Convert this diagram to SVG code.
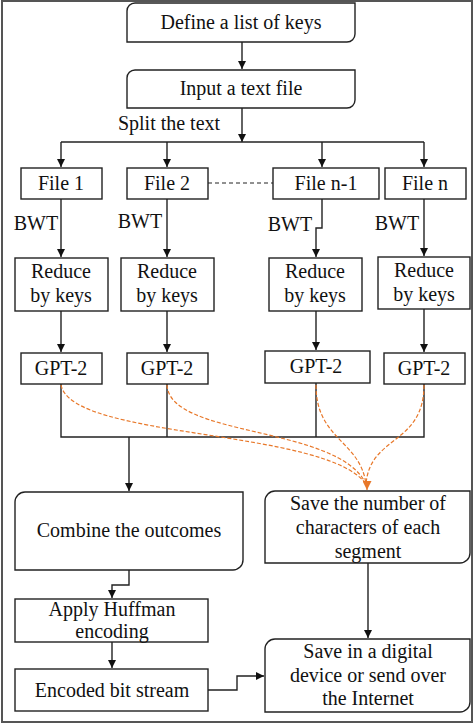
<svg xmlns="http://www.w3.org/2000/svg" width="474" height="724" viewBox="0 0 474 724">
<defs>
<style>
.n{fill:#fff;stroke:#222;stroke-width:1.4}
.t{font-family:"Liberation Serif","Times New Roman",serif;font-size:20px;fill:#111;text-anchor:middle}
.l{fill:none;stroke:#222;stroke-width:1.4}
.o{fill:none;stroke:#e8782a;stroke-width:1.2;stroke-dasharray:4 2}
</style>
<marker id="a" viewBox="0 0 10 10" refX="10" refY="5" markerWidth="8" markerHeight="8" markerUnits="userSpaceOnUse" orient="auto"><path d="M0,0 L10,5 L0,10 Z" fill="#111"/></marker>
<marker id="ao" viewBox="0 0 10 10" refX="10" refY="5" markerWidth="9" markerHeight="9" markerUnits="userSpaceOnUse" orient="auto"><path d="M0,0 L10,5 L0,10 Z" fill="#e8782a"/></marker>
</defs>
<rect x="2" y="1" width="470" height="721" fill="#fff" stroke="#555" stroke-width="2"/>

<g id="connectors">
<line class="l" x1="242" y1="42" x2="242" y2="69" marker-end="url(#a)"/>
<line class="l" x1="242" y1="108" x2="242" y2="142" marker-end="url(#a)"/>
<polyline class="l" points="61,142 424,142"/>
<line class="l" x1="61" y1="142" x2="61" y2="167" marker-end="url(#a)"/>
<line class="l" x1="167" y1="142" x2="167" y2="167" marker-end="url(#a)"/>
<line class="l" x1="322" y1="142" x2="322" y2="167" marker-end="url(#a)"/>
<line class="l" x1="424" y1="142" x2="424" y2="167" marker-end="url(#a)"/>
<line x1="208" y1="183" x2="273" y2="183" stroke="#222" stroke-width="1" stroke-dasharray="4 3"/>
<line class="l" x1="61" y1="199" x2="61" y2="257" marker-end="url(#a)"/>
<line class="l" x1="167" y1="199" x2="167" y2="257" marker-end="url(#a)"/>
<polyline class="l" points="322,199 322,228 316,228 316,257" marker-end="url(#a)"/>
<line class="l" x1="424" y1="199" x2="424" y2="256" marker-end="url(#a)"/>
<line class="l" x1="61" y1="311" x2="61" y2="352" marker-end="url(#a)"/>
<line class="l" x1="167" y1="311" x2="167" y2="352" marker-end="url(#a)"/>
<line class="l" x1="316" y1="311" x2="316" y2="350" marker-end="url(#a)"/>
<line class="l" x1="424" y1="309" x2="424" y2="352" marker-end="url(#a)"/>
<polyline class="l" points="61,384 61,437 424,437 424,384"/>
<line class="l" x1="167" y1="384" x2="167" y2="437"/>
<line class="l" x1="316" y1="383" x2="316" y2="437"/>
<line class="l" x1="129" y1="437" x2="129" y2="491" marker-end="url(#a)"/>
<path class="o" d="M61,385 C72,440 325,428 366,484"/>
<path class="o" d="M167,385 C170,438 338,425 366,484"/>
<path class="o" d="M316,385 C316,440 360,440 366,484"/>
<path class="o" d="M424,385 C424,445 370,435 366,484"/>
<line x1="367" y1="482" x2="367" y2="490" stroke="#e8782a" stroke-width="1.2" marker-end="url(#ao)"/>
<polyline class="l" points="129,570 129,585 112,585 112,598" marker-end="url(#a)"/>
<line class="l" x1="112" y1="642" x2="112" y2="668" marker-end="url(#a)"/>
<line class="l" x1="368" y1="563" x2="368" y2="638" marker-end="url(#a)"/>
<polyline class="l" points="208,690 237,690 237,676 264,676" marker-end="url(#a)"/>
</g>

<g id="define"><path class="n" d="M127,11 A8,8 0 0 1 135,3 L355,3 L355,34 A8,8 0 0 1 347,42 L127,42 Z"/><text class="t" x="241" y="29">Define a list of keys</text></g>
<g id="input"><path class="n" d="M127,78 A8,8 0 0 1 135,70 L355,70 L355,100 A8,8 0 0 1 347,108 L127,108 Z"/><text class="t" x="241" y="95">Input a text file</text></g>
<g id="split"><text class="t" x="169" y="130">Split the text</text></g>

<g id="file1"><rect class="n" x="21" y="168" width="81" height="31"/><text class="t" x="61" y="190">File 1</text></g>
<g id="file2"><rect class="n" x="127" y="168" width="81" height="31"/><text class="t" x="167" y="190">File 2</text></g>
<g id="filen1"><rect class="n" x="273" y="168" width="106" height="31"/><text class="t" x="326" y="190">File n-1</text></g>
<g id="filen"><rect class="n" x="385" y="168" width="81" height="31"/><text class="t" x="425" y="190">File n</text></g>

<g id="bwt1"><text class="t" x="36" y="230">BWT</text></g>
<g id="bwt2"><text class="t" x="140" y="228">BWT</text></g>
<g id="bwt3"><text class="t" x="290" y="231">BWT</text></g>
<g id="bwt4"><text class="t" x="397" y="230">BWT</text></g>

<g id="reduce1"><rect class="n" x="15" y="258" width="93" height="53"/><text class="t" x="61" y="278">Reduce</text><text class="t" x="61" y="302">by keys</text></g>
<g id="reduce2"><rect class="n" x="121" y="258" width="93" height="53"/><text class="t" x="167" y="278">Reduce</text><text class="t" x="167" y="302">by keys</text></g>
<g id="reduce3"><rect class="n" x="269" y="258" width="93" height="53"/><text class="t" x="315" y="278">Reduce</text><text class="t" x="315" y="302">by keys</text></g>
<g id="reduce4"><rect class="n" x="378" y="257" width="92" height="52" stroke-width="2.2"/><text class="t" x="424" y="277">Reduce</text><text class="t" x="424" y="301">by keys</text></g>

<g id="gpt1"><rect class="n" x="21" y="353" width="81" height="31"/><text class="t" x="61" y="375">GPT-2</text></g>
<g id="gpt2"><rect class="n" x="127" y="353" width="81" height="31"/><text class="t" x="167" y="375">GPT-2</text></g>
<g id="gpt3"><rect class="n" x="265" y="351" width="105" height="32"/><text class="t" x="316" y="373">GPT-2</text></g>
<g id="gpt4"><rect class="n" x="384" y="353" width="81" height="31"/><text class="t" x="424" y="375">GPT-2</text></g>

<g id="combine"><path class="n" d="M15,502 A10,10 0 0 1 25,492 L243,492 L243,560 A10,10 0 0 1 233,570 L15,570 Z"/><text class="t" x="129" y="537">Combine the outcomes</text></g>
<g id="savecount"><path class="n" d="M265,501 A10,10 0 0 1 275,491 L470,491 L470,553 A10,10 0 0 1 460,563 L265,563 Z"/><text class="t" x="368" y="510">Save the number of</text><text class="t" x="368" y="534">characters of each</text><text class="t" x="368" y="558">segment</text></g>
<g id="huffman"><rect class="n" x="15" y="599" width="193" height="43"/><text class="t" x="112" y="616">Apply Huffman</text><text class="t" x="112" y="638">encoding</text></g>
<g id="encoded"><rect class="n" x="15" y="669" width="193" height="42"/><text class="t" x="112" y="697">Encoded bit stream</text></g>
<g id="savedevice"><path class="n" d="M265,649 A10,10 0 0 1 275,639 L470,639 L470,702 A10,10 0 0 1 460,712 L265,712 Z"/><text class="t" x="368" y="658">Save in a digital</text><text class="t" x="368" y="682">device or send over</text><text class="t" x="368" y="705">the Internet</text></g>
</svg>
